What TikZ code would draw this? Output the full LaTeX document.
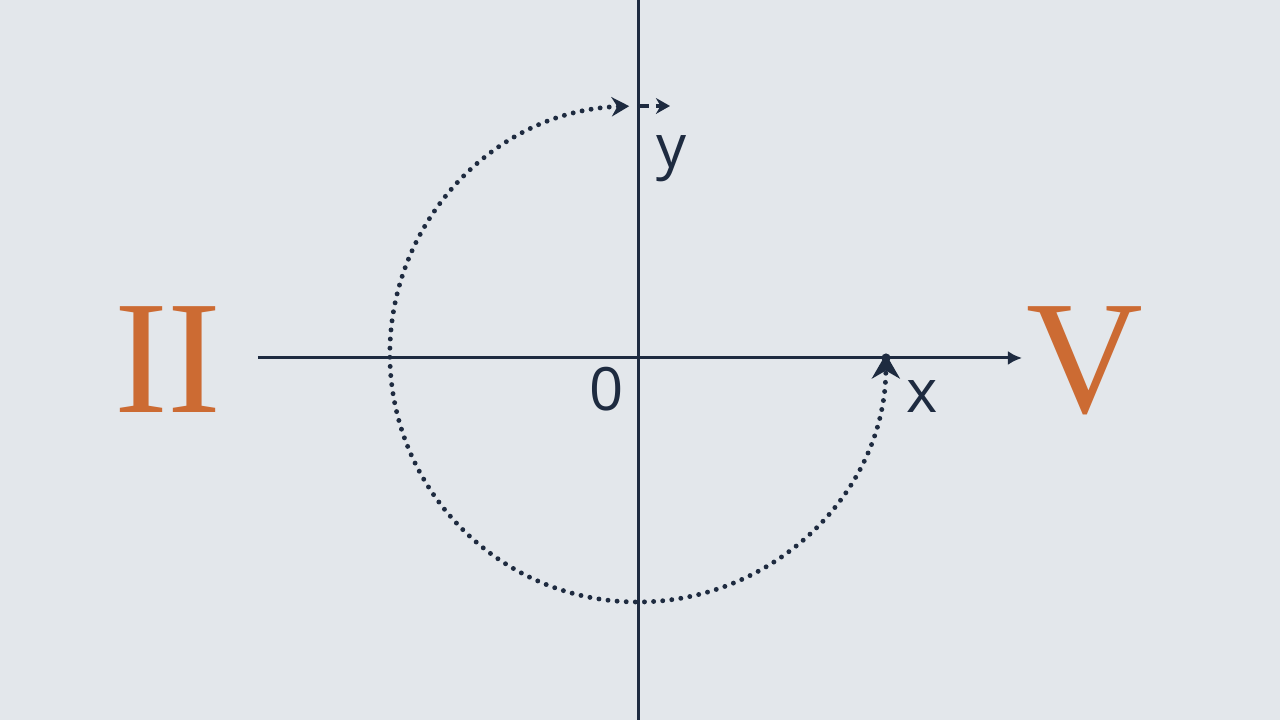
\documentclass[tikz,border=0pt]{standalone}
\usepackage{fontspec}
\setmainfont{Liberation Serif}
\newfontfamily\labelfont{Open Sans}
\usetikzlibrary{arrows.meta}
\definecolor{bgcol}{HTML}{E3E7EB}
\definecolor{navy}{HTML}{1E2B40}
\definecolor{rust}{HTML}{CC6B33}
\tikzset{
  every node/.style={
    align=center,
    draw=none,
    inner sep=0pt,
    anchor=base,
  },
  axisline/.style={navy, line width=0.85pt},
  dotarc/.style={navy, line width=1.4pt, line cap=round,
    dash pattern=on 0pt off 2.6pt},
  axislabel/.style={navy, font=\labelfont\fontsize{17}{17}\selectfont},
  numeral/.style={rust, font=\fontsize{46}{46}\selectfont},
}

\begin{document}
\begin{tikzpicture}
    \fill[bgcol] (-6.38,-3.62) rectangle (6.42,3.58);
    \useasboundingbox (-6.38,-3.62) rectangle (6.42,3.58);
    % axes
    \coordinate (O) at (0,0);
    \coordinate (xstart) at (-3.80,0);
    \coordinate (xend) at (3.84,0);
    \coordinate (ybot) at (0,-3.62);
    \coordinate (ytop) at (0,3.58);
    \draw[axisline] (ybot) -- (ytop);
    \draw[axisline, -{Latex[length=4pt,width=4pt]}] (xstart) -- (xend);
    % dotted arc
    \coordinate (arctop) at (92:2.52);
    \coordinate (arcnext) at (0.32,2.52);
    \fill[navy] (2.48,0) circle (1.3pt);
    \draw[dotarc, {Stealth[length=5pt,width=5.5pt]}-{Stealth[length=7pt,width=8pt]}]
      (arctop) arc[start angle=92, end angle=360, radius=2.48];
    \draw[navy, line width=1pt, dash pattern=on 2.5pt off 2pt,
      -{Stealth[length=4pt,width=4.5pt]}] (0.02,2.52) -- (arcnext);
    % labels
    \node[axislabel] (ylab) at (0.34,1.90) {y};
    \node[axislabel] (xlab) at (2.84,-0.55) {x};
    \node[axislabel] (olab) at (-0.31,-0.53) {0};
    \node[numeral] (two) at (-4.70,-0.55) {II};
    \node[numeral] (five) at (4.47,-0.55) {V};
\end{tikzpicture}
\end{document}
